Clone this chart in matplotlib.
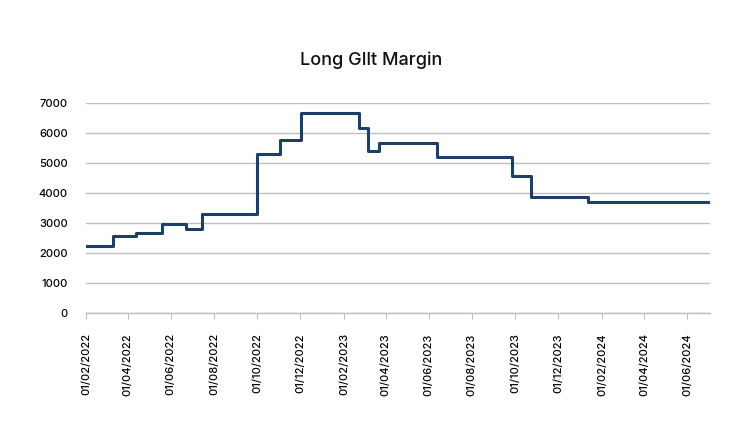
import matplotlib
matplotlib.use("Agg")
import matplotlib.pyplot as plt
import matplotlib.dates as mdates
import pandas as pd

# Data: step-change dates and margin values
change_dates = ["2022-02-01", "2022-03-11", "2022-04-13", "2022-05-20", "2022-06-23",
                "2022-07-15", "2022-10-01", "2022-11-03", "2022-12-02", "2023-02-23",
                "2023-03-07", "2023-03-22", "2023-06-12", "2023-09-27", "2023-10-24",
                "2024-01-13", "2024-07-03"]
margin_values = [2250, 2550, 2650, 2950, 2800,
                 3300, 5300, 5750, 6650, 6150,
                 5400, 5650, 5200, 4550, 3850,
                 3700, 3700]
y_ticks = [0, 1000, 2000, 3000, 4000, 5000, 6000, 7000]
title_text = "Long GIlt Margin"

dates = pd.to_datetime(change_dates)

fig = plt.figure(figsize=(7.5, 4.44), dpi=100)
ax = fig.add_axes([86/750, 1-313/444, (710-86)/750, (313-103)/444])

ax.step(dates, margin_values, where="post", color="#1B3F66", linewidth=2.2)

ax.set_xlim(dates[0], dates[-1])
ax.set_ylim(0, 7000)
ax.set_yticks(y_ticks)
ax.yaxis.grid(True, color="#BFBFBF", linewidth=1.0)
ax.set_axisbelow(True)

for s in ["top", "right", "left"]:
    ax.spines[s].set_visible(False)
ax.spines["bottom"].set_color("#BFBFBF")
ax.spines["bottom"].set_linewidth(1.0)

ax.xaxis.set_major_locator(mdates.MonthLocator(bymonth=[2, 4, 6, 8, 10, 12]))
ax.xaxis.set_major_formatter(mdates.DateFormatter("%d/%m/%Y"))
ax.tick_params(axis="x", length=4.5, color="#BFBFBF", pad=10, labelsize=8, rotation=90)
ax.tick_params(axis="y", length=0, pad=13, labelsize=8)
for lbl in ax.get_xticklabels() + ax.get_yticklabels():
    lbl.set_fontfamily("Inter")
    lbl.set_fontweight("medium")
    lbl.set_color("#000000")

fig.text(0.495, 1-60/444, title_text, ha="center", va="center",
         fontsize=13, family="Inter", fontweight="medium", color="#111111")

fig.savefig("out.png", dpi=100)
